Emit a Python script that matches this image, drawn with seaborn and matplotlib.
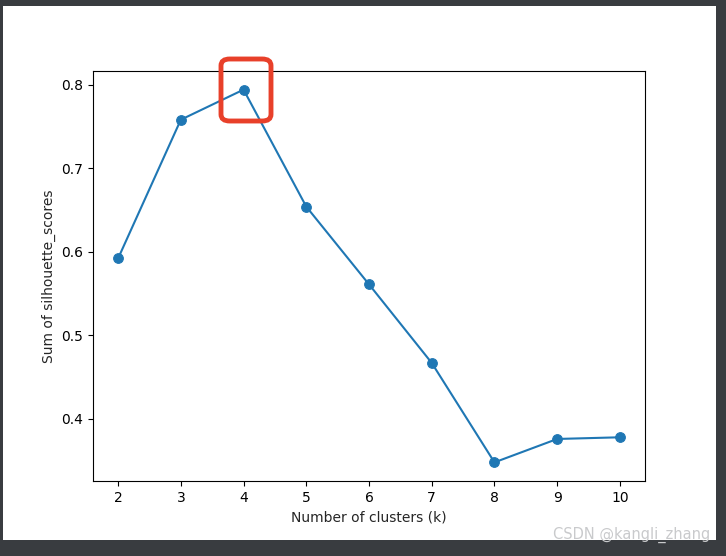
import matplotlib
matplotlib.use('Agg')
import seaborn as sns
from matplotlib import pyplot as plt
from matplotlib.patches import FancyBboxPatch

# silhouette scores per k
clusters = [2, 3, 4, 5, 6, 7, 8, 9, 10]
scores = [0.592, 0.758, 0.794, 0.654, 0.561, 0.467, 0.348, 0.376, 0.378]

sns.set_style('ticks')
plt.rcParams['font.family'] = ['DejaVu Sans']

fig = plt.figure(figsize=(7.26, 5.56), dpi=100, facecolor='#393c40')
# white canvas inside the dark screenshot frame
bg = fig.add_axes([3 / 726, 16 / 556, 713 / 726, 534 / 556], zorder=-1)
bg.set_facecolor('white')
bg.axis('off')
bg.add_patch(plt.Rectangle((0, 0), 1, 1, transform=bg.transAxes,
                           facecolor='white', edgecolor='none'))

ax = fig.add_axes([93 / 726, 75 / 556, 552 / 726, 410 / 556])
sns.lineplot(x=clusters, y=scores, marker='o', markersize=7,
             markeredgecolor='#1f77b4', color='#1f77b4', ax=ax)
ax.set_xticks(clusters)
ax.set_yticks([0.4, 0.5, 0.6, 0.7, 0.8])
ax.set_xlabel('Number of clusters (k)')
ax.set_ylabel('Sum of silhouette_scores')
for s in ax.spines.values():
    s.set_color('black')
    s.set_linewidth(0.8)
ax.tick_params(colors='black', labelsize=10)

# red highlight box around the best k
fig.patches.append(FancyBboxPatch((221 / 726, 435 / 556), 50 / 726, 62 / 556,
                                  boxstyle='round,pad=0,rounding_size=0.012',
                                  transform=fig.transFigure, fill=False,
                                  edgecolor='#e8402a', linewidth=3.5, zorder=5))
fig.text(710 / 726, 13 / 556, 'CSDN @kangli_zhang', ha='right', va='bottom',
         color='#c9cacc', fontsize=10.5)

fig.savefig('out.png', dpi=100, facecolor=fig.get_facecolor())
